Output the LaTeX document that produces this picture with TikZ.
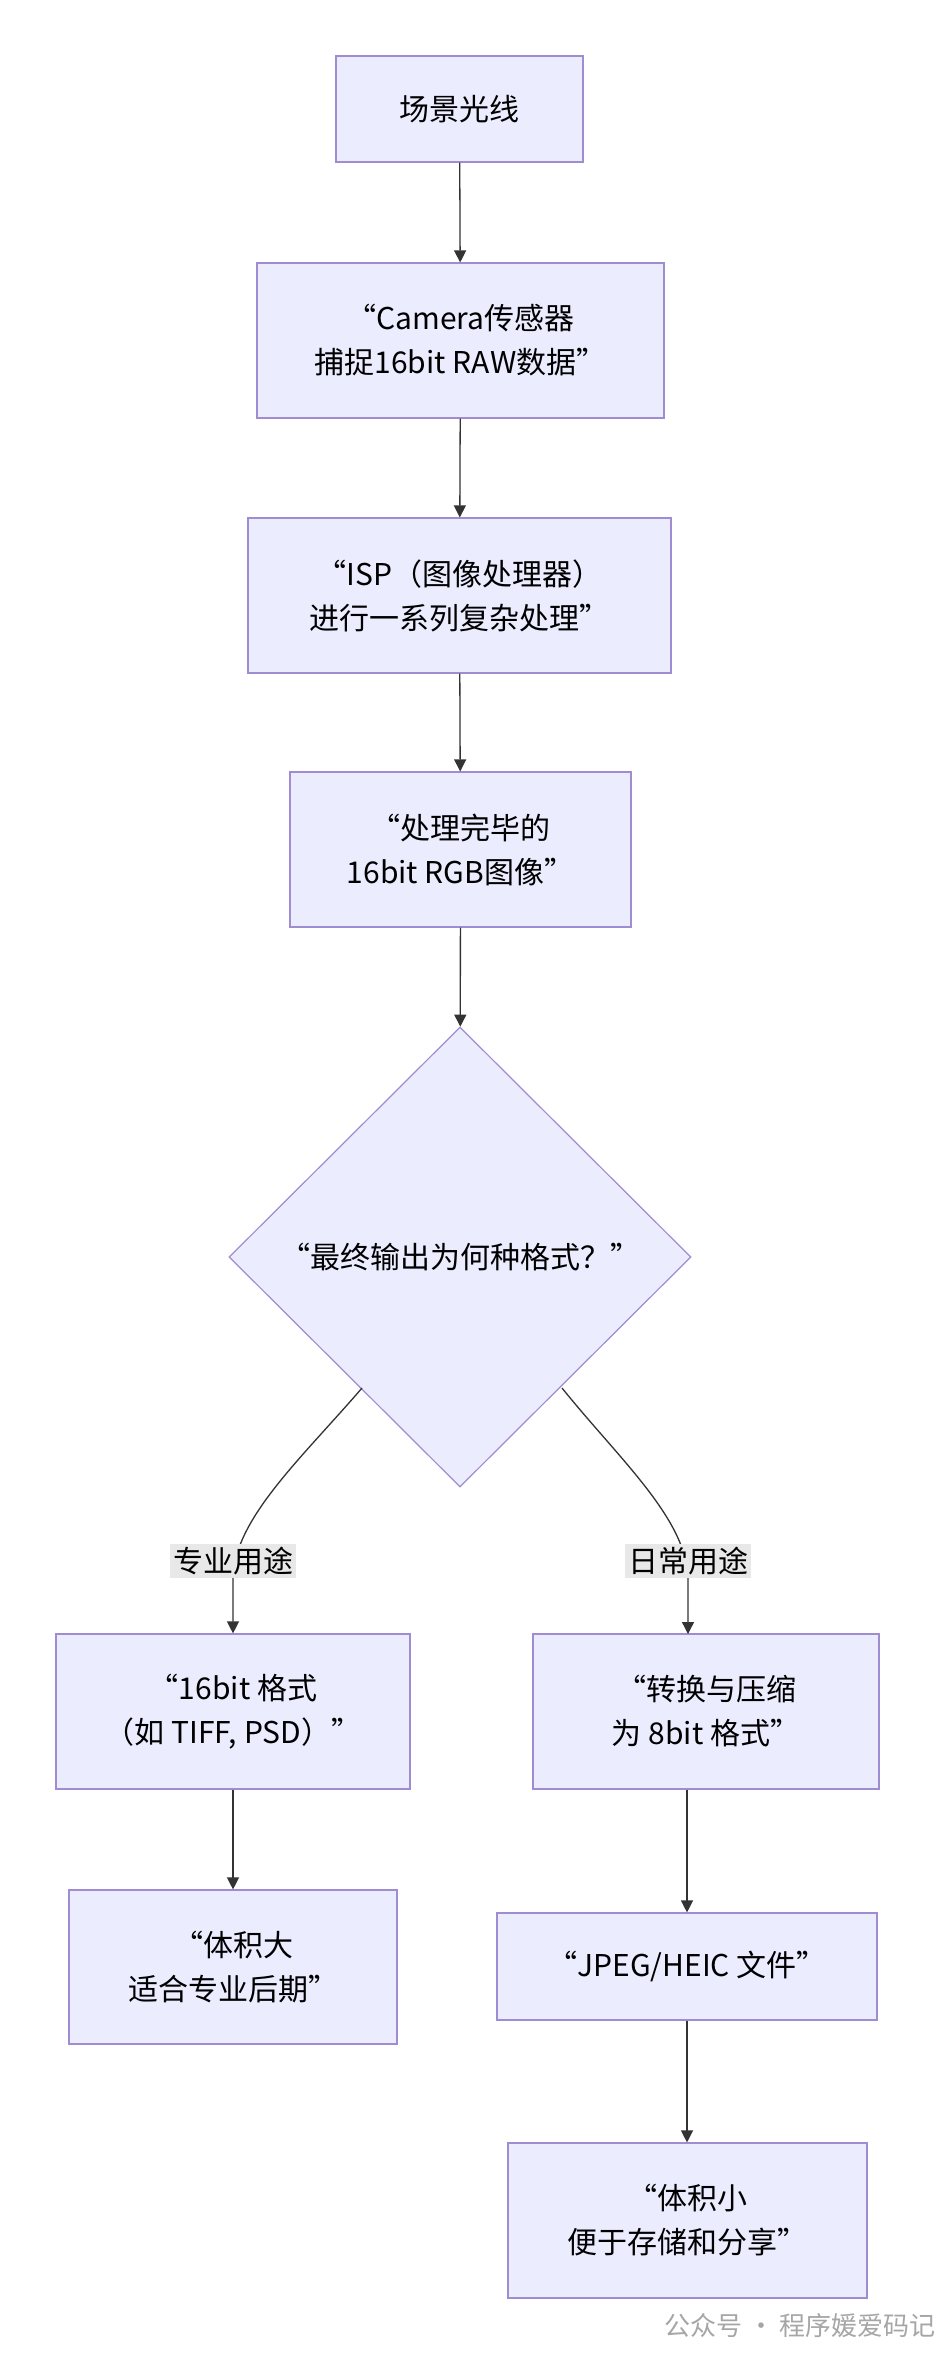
\documentclass[tikz,border=0pt]{standalone}
\usepackage{fontspec}
\setmainfont{Noto Sans CJK SC}
\usetikzlibrary{shapes.geometric,arrows.meta}
\definecolor{nfill}{HTML}{ECECFF}
\definecolor{nline}{HTML}{A08CD0}
\definecolor{eline}{HTML}{333333}
\definecolor{lbg}{HTML}{E8E8E8}
\tikzset{
 box/.style={draw=nline,fill=nfill,line width=1.2pt,align=center,font=\fontsize{30}{44}\selectfont,inner sep=0pt},
 conn/.style={draw=eline,line width=1.3pt,-{Triangle[length=12pt,width=12pt]}},
 elab/.style={fill=lbg,font=\fontsize{30}{34}\selectfont,inner sep=3pt}
}
\newcommand{\bx}[6]{\node[box,minimum width=#4-#2,minimum height=#5-#3] (#1) at ({(#2+#4)/2},{(#3+#5)/2}) {#6};}
\begin{document}
\begin{tikzpicture}[x=1pt,y=-1pt]
\useasboundingbox[fill=white] (0,0) rectangle (936,2365);
\bx{a}{336}{56}{583}{162}{场景光线}
\bx{b}{257}{263}{664}{418}{“Camera传感器\\捕捉16bit RAW数据”}
\bx{c}{248}{518}{671}{673}{“ISP（图像处理器）\\进行一系列复杂处理”}
\bx{d}{290}{772}{631}{927}{“处理完毕的\\16bit RGB图像”}
\node[diamond,draw=nline,fill=nfill,line width=1.2pt,minimum width=462pt,minimum height=460pt,inner sep=0pt,font=\fontsize{30}{34}\selectfont] (e) at (460,1257) {“最终输出为何种格式？”};
\bx{f}{56}{1634}{410}{1789}{“16bit 格式\\（如 TIFF, PSD）”}
\bx{g}{533}{1634}{879}{1789}{“转换与压缩\\为 8bit 格式”}
\bx{h}{69}{1890}{397}{2044}{“体积大\\适合专业后期”}
\bx{i}{497}{1913}{877}{2020}{“JPEG/HEIC 文件”}
\bx{j}{508}{2143}{867}{2298}{“体积小\\便于存储和分享”}
\draw[conn] (a) -- (b);
\draw[conn] (b) -- (c);
\draw[conn] (c) -- (d);
\draw[conn] (d) -- (e);
\coordinate (el) at (362,1388);
\coordinate (er) at (562,1388);
\coordinate (gt) at (688,1634);
\draw[conn] (el) .. controls (300,1460) and (233,1520) .. (233,1580) -- (f.north);
\draw[conn] (er) .. controls (620,1460) and (688,1520) .. (688,1580) -- (gt);
\node[elab] (l1) at (233,1561) {专业用途};
\node[elab] (l2) at (688,1561) {日常用途};
\draw[conn] (f) -- (h);
\draw[conn] (i.north |- g.south) -- (i.north);
\draw[conn] (i) -- (i.north |- j.north);
\node[font=\fontsize{26}{30}\selectfont,text=gray!70] (w) at (800,2326) {公众号 · 程序媛爱码记};
\end{tikzpicture}
\end{document}
